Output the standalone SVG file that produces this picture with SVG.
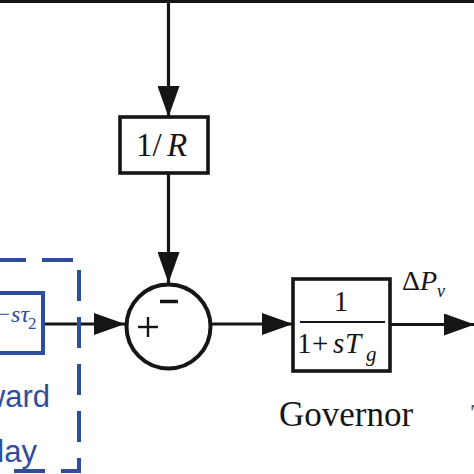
<svg xmlns="http://www.w3.org/2000/svg" width="474" height="474" viewBox="0 0 474 474">
<style>
.ln{stroke:#151515;stroke-width:3.2;fill:none}
.bx{stroke:#151515;stroke-width:3.6;fill:#fff}
.blue{stroke:#2d4d9e;stroke-width:4;fill:none}
.m{font-family:"Liberation Serif","Times New Roman",serif;fill:#151515}
.it{font-style:italic}
.bt{font-family:"Liberation Sans",Arial,sans-serif;fill:#2d4d9e;font-size:31px}
</style>
<defs>
<marker id="ah" markerUnits="userSpaceOnUse" markerWidth="32" markerHeight="22" viewBox="0 0 32 22" refX="31" refY="11" orient="auto">
<path d="M0,0 L31,11 L0,22 Z" fill="#151515"/>
</marker>
</defs>
<rect width="474" height="474" fill="#fff"/>
<g id="connectors">
<line class="ln" x1="0" y1="1.5" x2="474" y2="1.5"/>
<line class="ln" x1="168.5" y1="0" x2="168.5" y2="117" marker-end="url(#ah)"/>
<line class="ln" x1="168.5" y1="173" x2="168.5" y2="283" marker-end="url(#ah)"/>
<line class="ln" x1="43" y1="324" x2="125" y2="324" marker-end="url(#ah)"/>
<line class="ln" x1="212" y1="324" x2="293" y2="324" marker-end="url(#ah)"/>
<line class="ln" x1="390" y1="324.5" x2="475" y2="324.5" marker-end="url(#ah)"/>
</g>
<g id="delay">
<path class="blue" d="M-5,260 H79 V471 H-5" stroke-dasharray="31 16"/>
<rect class="blue" x="-10" y="293" width="53" height="60"/>
<text class="m it" x="29" y="322" font-size="24" text-anchor="end" style="fill:#2d4d9e">−sτ</text>
<text class="m" x="28" y="329" font-size="17" style="fill:#2d4d9e">2</text>
<text class="bt" x="50" y="407" text-anchor="end">ward</text>
<text class="bt" x="37" y="462" text-anchor="end">lay</text>
</g>
<g id="gain">
<rect class="bx" x="120" y="117" width="88" height="56"/>
<text class="m" x="136" y="156" font-size="33">1/</text>
<text class="m it" x="167" y="156" font-size="33">R</text>
</g>
<g id="sum">
<circle cx="168.5" cy="326.5" r="42" stroke="#151515" stroke-width="4" fill="#fff"/>
<line x1="160" y1="301.5" x2="178" y2="301.5" stroke="#151515" stroke-width="3.5"/>
<line x1="138" y1="327" x2="158" y2="327" stroke="#151515" stroke-width="2.4"/>
<line x1="148" y1="317" x2="148" y2="337" stroke="#151515" stroke-width="2.4"/>
</g>
<g id="governor">
<rect class="bx" x="293" y="279" width="97" height="92"/>
<line x1="300" y1="322" x2="385" y2="322" stroke="#151515" stroke-width="2"/>
<text class="m" x="341" y="311" font-size="29" text-anchor="middle">1</text>
<text class="m" font-size="29"><tspan x="297" y="353">1</tspan><tspan x="312" y="353">+</tspan><tspan class="it" x="333" y="353">s</tspan><tspan class="it" x="345" y="353">T</tspan></text>
<text class="m it" x="366" y="361" font-size="21">g</text>
<text class="m" x="346" y="426" font-size="35" text-anchor="middle">Governor</text>
</g>
<g id="output-label">
<text class="m" x="402" y="290" font-size="28">Δ<tspan class="it">P</tspan></text>
<text class="m it" x="437" y="297" font-size="18">v</text>
</g>
<text class="m" x="471" y="427" font-size="34" style="fill:#555">T</text>
</svg>
